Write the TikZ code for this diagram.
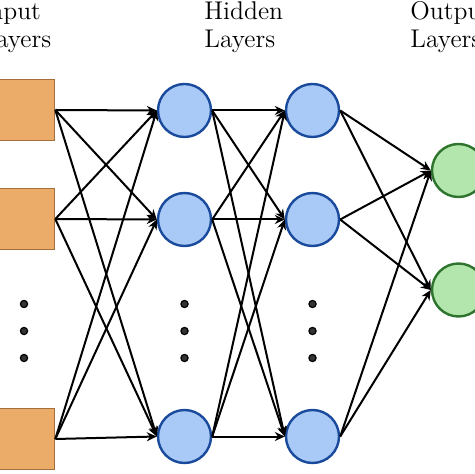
\documentclass[tikz,border=0pt]{standalone}
\usetikzlibrary{arrows.meta}

\definecolor{boxfill}{RGB}{234,172,104}
\definecolor{boxline}{RGB}{166,110,58}
\definecolor{hidfill}{RGB}{169,201,246}
\definecolor{hidline}{RGB}{26,74,156}
\definecolor{outfill}{RGB}{178,230,172}
\definecolor{outgreen}{RGB}{46,116,46}

\tikzset{
  inbox/.style={draw=boxline, fill=boxfill, line width=0.8pt, minimum size=30.5pt, inner sep=0pt},
  hidnode/.style={circle, draw=hidline, fill=hidfill, line width=1.2pt, minimum size=26.5pt, inner sep=0pt},
  outnode/.style={circle, draw=outgreen, fill=outfill, line width=1.2pt, minimum size=26.5pt, inner sep=0pt},
  conn/.style={line width=1pt, -{Stealth[length=5pt,width=4.5pt]}},
  lbl/.style={anchor=north west, align=left, inner sep=0pt, font=\fontsize{12.8}{14}\selectfont},
  vdot/.style={circle, fill=black!80, draw=black, line width=0.6pt, inner sep=0pt, minimum size=3.6pt}
}

\begin{document}
\begin{tikzpicture}[x=0.5pt,y=-0.5pt]
  \useasboundingbox (0,0) rectangle (474,474);

  % layer titles
  \node[lbl] (tin) at (-20,1.5) {Input\\Layers};
  \node[lbl] (thid) at (204,1.5) {Hidden\\Layers};
  \node[lbl] (tout) at (410,1.5) {Output\\Layers};

  % input layer
  \node[inbox] (i1) at (24,110) {};
  \node[inbox] (i2) at (24,219) {};
  \node[inbox] (i3) at (24,439) {};

  % hidden layers
  \node[hidnode] (a1) at (184.5,110.5) {};
  \node[hidnode] (a2) at (184.5,219.5) {};
  \node[hidnode] (a3) at (184.5,436.5) {};
  \node[hidnode] (b1) at (312.5,110.5) {};
  \node[hidnode] (b2) at (312.5,219.5) {};
  \node[hidnode] (b3) at (312.5,436.5) {};

  % output layer
  \node[outnode] (o1) at (458.5,170.5) {};
  \node[outnode] (o2) at (458.5,290) {};

  % vertical dots
  \foreach \x/\c in {24/p,184.5/q,312.5/r}
    \foreach \y [count=\k] in {304,331,358}
      \node[vdot] (\c\k) at (\x,\y) {};

  % connections
  \foreach \s in {1,2,3}
    \foreach \t in {1,2,3}
      \draw[conn] (i\s.east) -- (a\t.west);
  \foreach \s in {1,2,3}
    \foreach \t in {1,2,3}
      \draw[conn] (a\s.east) -- (b\t.west);
  \foreach \s in {1,2,3}
    \foreach \t in {1,2}
      \draw[conn] (b\s.east) -- (o\t.west);
\end{tikzpicture}
\end{document}
